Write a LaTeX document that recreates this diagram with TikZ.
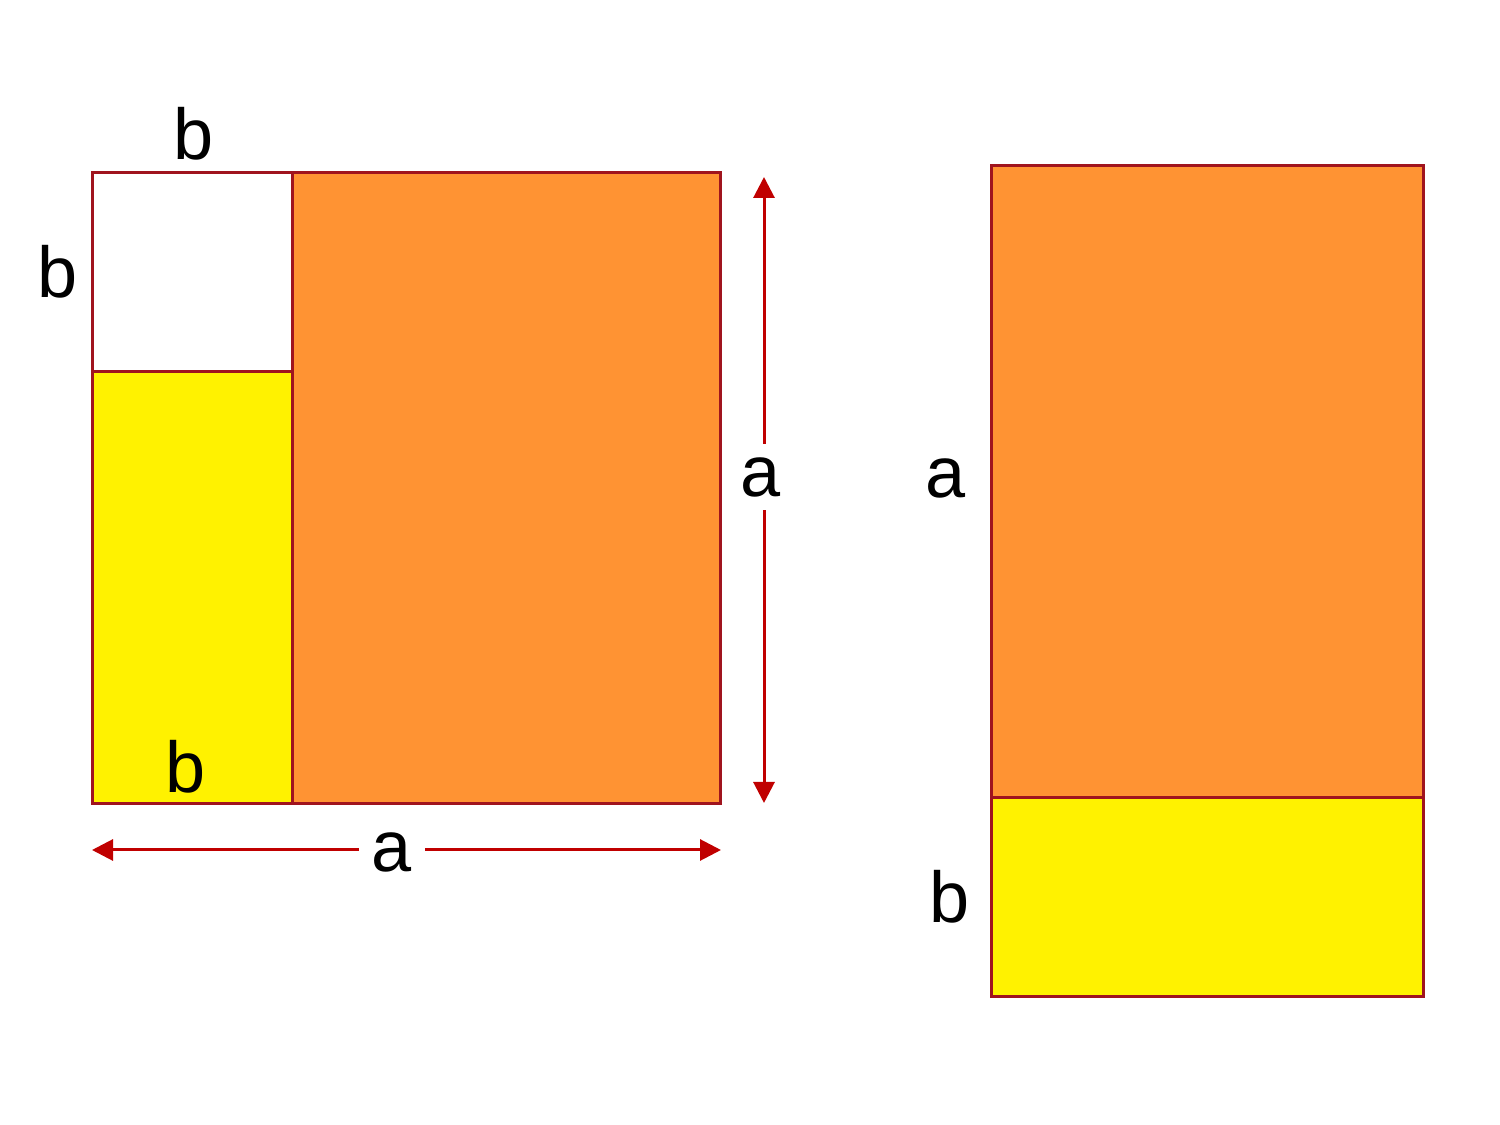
\documentclass[tikz,border=0pt]{standalone}
\usepackage{fontspec}
\setmainfont{Liberation Sans}
\usetikzlibrary{arrows.meta}
\definecolor{piece}{HTML}{FF9333}
\definecolor{strip}{HTML}{FFF200}
\definecolor{edge}{HTML}{A0141E}
\definecolor{dimred}{HTML}{C00000}
\begin{document}
\begin{tikzpicture}[thick, side/.style = {font=\fontsize{20.5}{25}\selectfont, inner sep=0.12cm},
    dim/.style = {dimred, line width=0.03cm, -{Triangle[width=0.21cm,length=0.21cm]}},
    part/.style = {draw=edge, line width=0.03cm}]
        \useasboundingbox (0,0) rectangle (15,11.25);

        % left square a x a
        \filldraw[part, fill=white] (0.93,7.53) rectangle (2.92,9.52);
        \filldraw[part, fill=strip] (0.93,3.21) rectangle (2.92,7.53);
        \filldraw[part, fill=piece] (2.92,3.21) rectangle (7.20,9.52);

        % right rectangle
        \filldraw[part, fill=piece] (9.91,3.27) rectangle (14.23,9.59);
        \filldraw[part, fill=strip] (9.91,1.29) rectangle (14.23,3.27);

        \node[side] (bT) at (1.94,9.91) {b};
        \node[side] (bL) at (0.58,8.53) {b};
        \node[side] (bB) at (1.86,3.58) {b};
        \node[side] (aV) at (7.61,6.48) {a};
        \node[side] (aH) at (3.92,2.73) {a};
        \node[side] (aR) at (9.46,6.47) {a};
        \node[side] (bR) at (9.50,2.28) {b};

        \coordinate (vTop) at (7.64,9.48);
        \coordinate (vBot) at (7.64,3.22);
        \coordinate (hLeft) at (0.92,2.75);
        \coordinate (hRight) at (7.21,2.75);

        \draw[dim] (aV.north -| vTop) -- (vTop);
        \draw[dim] (aV.south -| vBot) -- (vBot);
        \draw[dim] (aH.west |- hLeft) -- (hLeft);
        \draw[dim] (aH.east |- hRight) -- (hRight);

    \end{tikzpicture}
\end{document}
